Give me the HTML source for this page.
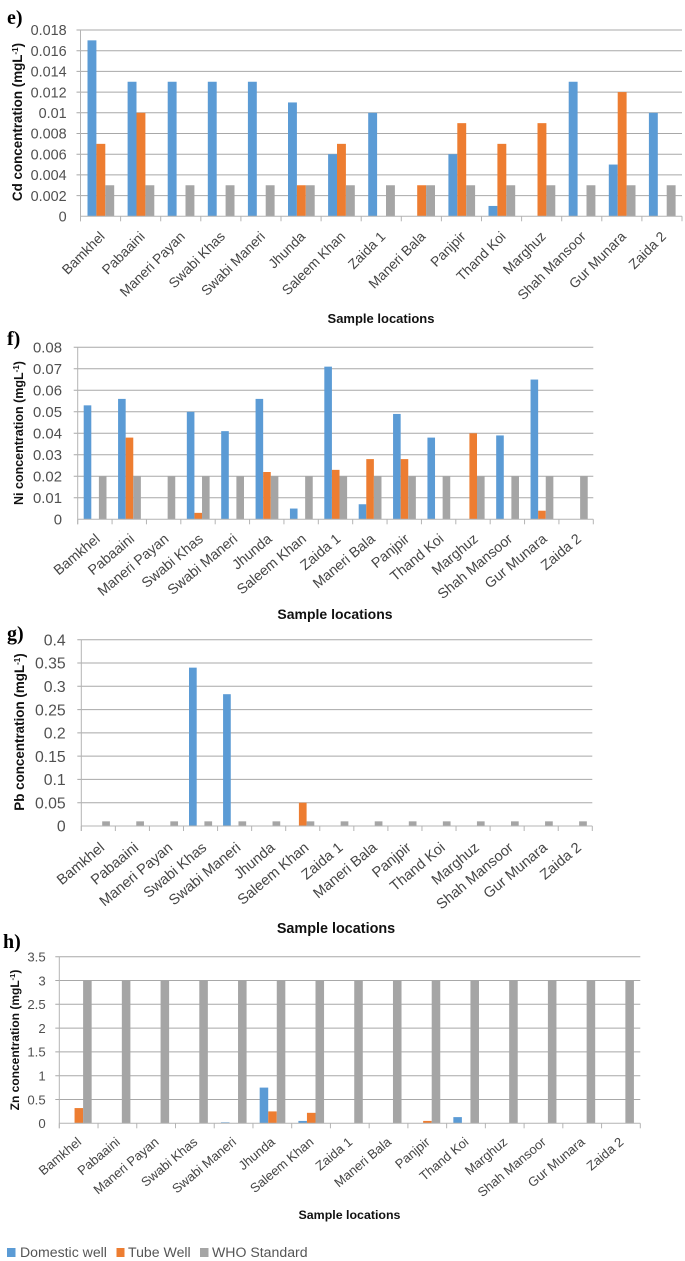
<!DOCTYPE html>
<html lang="en">
<head>
<meta charset="utf-8">
<title>Heavy metal concentrations by sample location</title>
<style>
html,body{margin:0;padding:0;background:#fff;}
body{width:685px;height:1261px;overflow:hidden;}
svg{display:block;filter:blur(0.35px);}
text{font-family:"Liberation Sans",sans-serif;}
.panel{font-family:"Liberation Serif",serif;font-weight:bold;font-size:20px;fill:#000;}
.axt{font-weight:bold;fill:#111;}
.leg{font-size:14.1px;fill:#555;}
</style>
</head>
<body>
<svg id="fig" width="685" height="1261" viewBox="0 0 685 1261" xmlns="http://www.w3.org/2000/svg">
  <text class="panel" x="7" y="24">e)</text>
  <text class="panel" x="7" y="345">f)</text>
  <text class="panel" x="7" y="640">g)</text>
  <text class="panel" x="3" y="948">h)</text>

  <text class="axt" font-size="13.4" text-anchor="middle" transform="translate(22,122) rotate(-90)">Cd concentration (mgL<tspan font-size="8" dy="-4">-1</tspan><tspan dy="4">)</tspan></text>
  <text class="axt" font-size="12.5" text-anchor="middle" transform="translate(23,433) rotate(-90)">Ni concentration (mgL<tspan font-size="8" dy="-4">-1</tspan><tspan dy="4">)</tspan></text>
  <text class="axt" font-size="13.4" text-anchor="middle" transform="translate(24,732) rotate(-90)">Pb concentration (mgL<tspan font-size="8" dy="-4">-1</tspan><tspan dy="4">)</tspan></text>
  <text class="axt" font-size="12" text-anchor="middle" transform="translate(19,1040) rotate(-90)">Zn concentration (mgL<tspan font-size="7.5" dy="-4">-1</tspan><tspan dy="4">)</tspan></text>

  <text class="axt" font-size="13" text-anchor="middle" x="381" y="323">Sample locations</text>
  <text class="axt" font-size="14" text-anchor="middle" x="335" y="619">Sample locations</text>
  <text class="axt" font-size="14.4" text-anchor="middle" x="336" y="933">Sample locations</text>
  <text class="axt" font-size="12.4" text-anchor="middle" x="349.5" y="1219">Sample locations</text>

  <g>
    <g>
      <rect x="7" y="1248" width="8.5" height="9" fill="#5B9BD5"/>
      <text class="leg" x="20" y="1257">Domestic well</text>
    </g>
    <g>
      <rect x="116.5" y="1248" width="8" height="9" fill="#ED7D31"/>
      <text class="leg" x="128" y="1257">Tube Well</text>
    </g>
    <g>
      <rect x="200" y="1248" width="8.5" height="9" fill="#A5A5A5"/>
      <text class="leg" x="212" y="1257">WHO Standard</text>
    </g>
  </g>
</svg>
<script>
const categories = ["Bamkhel","Pabaaini","Maneri Payan","Swabi Khas","Swabi Maneri","Jhunda","Saleem Khan","Zaida 1","Maneri Bala","Panjpir","Thand Koi","Marghuz","Shah Mansoor","Gur Munara","Zaida 2"];

const cdTicks = ["0","0.002","0.004","0.006","0.008","0.01","0.012","0.014","0.016","0.018"];
const cdDomestic = [0.017,0.013,0.013,0.013,0.013,0.011,0.006,0.01,0,0.006,0.001,0,0.013,0.005,0.01];
const cdTube = [0.007,0.01,0,0,0,0.003,0.007,0,0.003,0.009,0.007,0.009,0,0.012,0];
const cdWho = [0.003,0.003,0.003,0.003,0.003,0.003,0.003,0.003,0.003,0.003,0.003,0.003,0.003,0.003,0.003];

const niTicks = ["0","0.01","0.02","0.03","0.04","0.05","0.06","0.07","0.08"];
const niDomestic = [0.053,0.056,0,0.05,0.041,0.056,0.005,0.071,0.007,0.049,0.038,0,0.039,0.065,0];
const niTube = [0,0.038,0,0.003,0,0.022,0,0.023,0.028,0.028,0,0.04,0,0.004,0];
const niWho = [0.02,0.02,0.02,0.02,0.02,0.02,0.02,0.02,0.02,0.02,0.02,0.02,0.02,0.02,0.02];

const pbTicks = ["0","0.05","0.1","0.15","0.2","0.25","0.3","0.35","0.4"];
const pbDomestic = [0,0,0,0.34,0.283,0,0,0,0,0,0,0,0,0,0];
const pbTube = [0,0,0,0,0,0,0.05,0,0,0,0,0,0,0,0];
const pbWho = [0.01,0.01,0.01,0.01,0.01,0.01,0.01,0.01,0.01,0.01,0.01,0.01,0.01,0.01,0.01];

const znTicks = ["0","0.5","1","1.5","2","2.5","3","3.5"];
const znDomestic = [0,0,0,0,0.02,0.75,0.05,0,0,0,0.13,0,0,0,0];
const znTube = [0.32,0,0,0,0,0.25,0.22,0,0,0.05,0,0,0,0,0];
const znWho = [3,3,3,3,3,3,3,3,3,3,3,3,3,3,3];

const NS = "http://www.w3.org/2000/svg";
const fig = document.getElementById("fig");
const seriesColors = {domestic:"#5B9BD5", tube:"#ED7D31", who:"#A5A5A5"};

function make(tag, parent, attrs, txt) {
  const el = document.createElementNS(NS, tag);
  for (const k in attrs) el.setAttribute(k, attrs[k]);
  if (txt !== undefined) el.textContent = txt;
  parent.appendChild(el);
  return el;
}

function drawChart(name, box, ticks, domestic, tube, who) {
  const g = make("g", fig, {});
  
  

  const maxV = parseFloat(ticks[ticks.length - 1]);
  const yOf = v => box.base - (v / maxV) * (box.base - box.top);
  const catW = (box.right - box.left) / categories.length;
  const xOf = i => box.left + i * catW;

  // gridlines and y tick labels
  ticks.forEach(function (t) {
    const y = yOf(parseFloat(t));
    if (parseFloat(t) !== 0) {
      const line = make("line", g, {x1: box.left - 4, x2: box.right, y1: y, y2: y, stroke: "#a8a8a8", "stroke-width": 1});
      
      
    }
    const lab = make("text", g, {x: box.labelRight, y: y + box.tickSize * 0.36, "text-anchor": "end", "font-size": box.tickSize, fill: "#505050"}, t);
    
    
  });

  // axes
  const yAxis = make("line", g, {x1: box.left, x2: box.left, y1: box.top, y2: box.base + 5, stroke: "#b4b4b4", "stroke-width": 1});
  
  

  // bars
  const seriesList = [["domestic", domestic], ["tube", tube], ["who", who]];
  seriesList.forEach(function (s, si) {
    s[1].forEach(function (v, i) {
      if (v <= 0) return;
      const bar = make("rect", g, {
        x: xOf(i) + box.offset + si * box.barW,
        y: yOf(v),
        width: box.barW,
        height: box.base - yOf(v),
        fill: seriesColors[s[0]]
      });
      
      
    });
  });

  const xAxis = make("line", g, {x1: box.left, x2: box.right, y1: box.base, y2: box.base, stroke: "#b4b4b4", "stroke-width": 1});
  
  

  // x ticks
  for (let i = 0; i <= categories.length; i++) {
    const tk = make("line", g, {x1: xOf(i), x2: xOf(i), y1: box.base, y2: box.base + 5, stroke: "#b4b4b4", "stroke-width": 1});
    
    
  }

  // category labels
  categories.forEach(function (c, i) {
    const cx = xOf(i) + catW / 2 + box.labelDx;
    const cy = box.base + box.labelDy;
    const lab = make("text", g, {
      "text-anchor": "end",
      "font-size": box.catSize,
      fill: "#454545",
      transform: "translate(" + cx + "," + cy + ") rotate(" + box.angle + ")"
    }, c);
    
    
  });
}

drawChart("cd", {left:80.5, right:682, top:30, base:216.3, offset:7, barW:8.9, labelRight:66.7, tickSize:14.4, catSize:13.8, angle:-45, labelDx:5, labelDy:21}, cdTicks, cdDomestic, cdTube, cdWho);
drawChart("ni", {left:77.7, right:593.3, top:347.3, base:519.3, offset:6, barW:7.6, labelRight:62, tickSize:14.9, catSize:14.2, angle:-40, labelDx:6, labelDy:21}, niTicks, niDomestic, niTube, niWho);
drawChart("pb", {left:81.3, right:592.3, top:639.7, base:826, offset:5.5, barW:7.7, labelRight:65.7, tickSize:15.8, catSize:14.6, angle:-40, labelDx:7, labelDy:23}, pbTicks, pbDomestic, pbTube, pbWho);
drawChart("zn", {left:59.3, right:640.3, top:956.7, base:1123.3, offset:6.7, barW:8.55, labelRight:45.7, tickSize:13.2, catSize:13, angle:-40, labelDx:3.5, labelDy:20}, znTicks, znDomestic, znTube, znWho);
</script>
</body>
</html>
